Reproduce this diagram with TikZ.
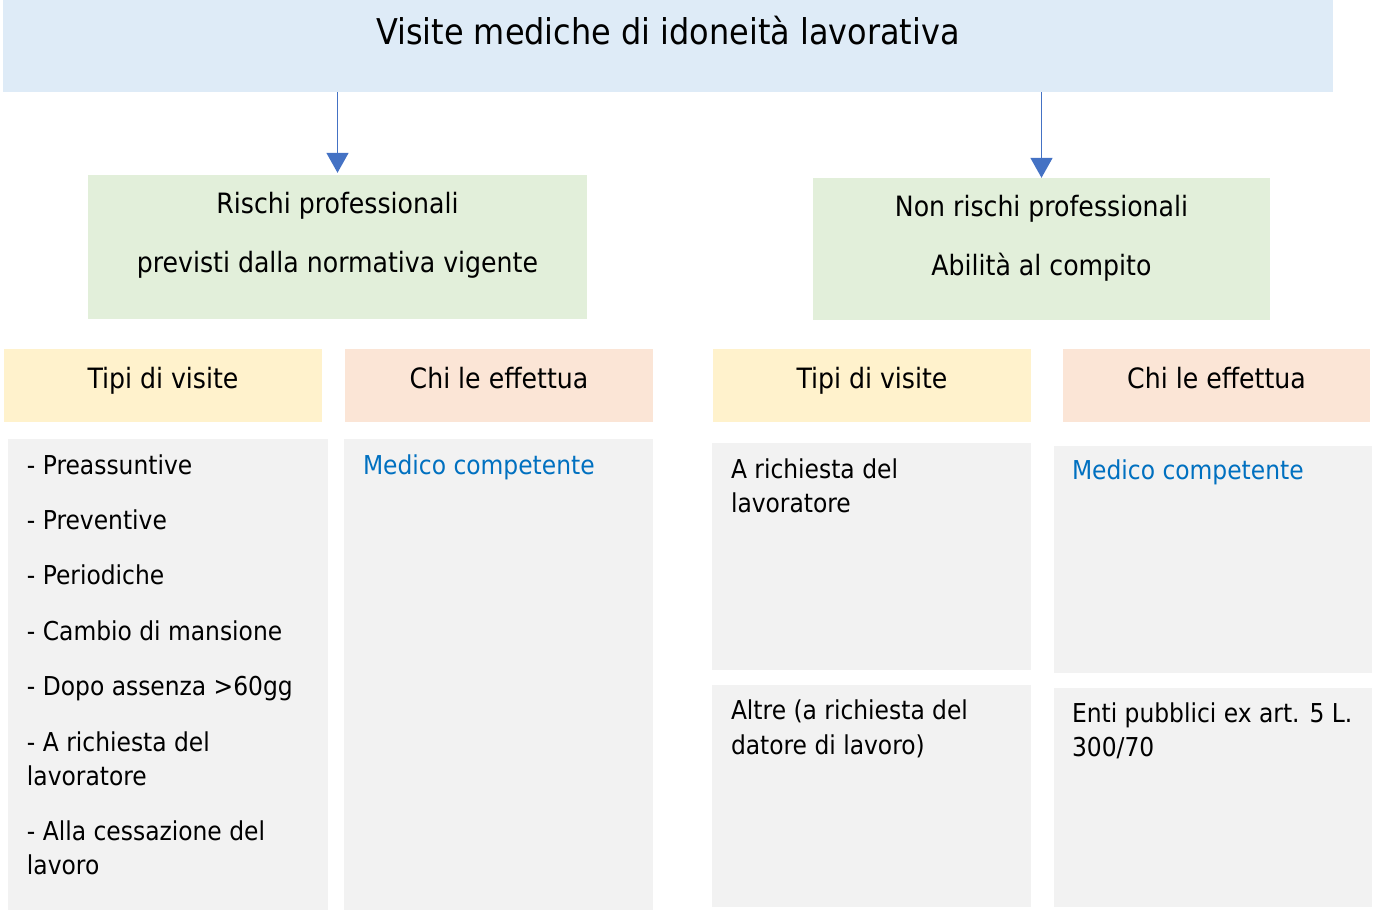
\documentclass[tikz,border=0pt]{standalone}
\usepackage{fontspec}
\setmainfont{DejaVu Sans Condensed}
\usetikzlibrary{arrows.meta,positioning}
\definecolor{titleblue}{HTML}{DEEBF7}
\definecolor{riskgreen}{HTML}{E2EFDA}
\definecolor{headyellow}{HTML}{FFF2CC}
\definecolor{headpink}{HTML}{FBE5D6}
\definecolor{listgrey}{HTML}{F2F2F2}
\definecolor{arrowblue}{HTML}{4472C4}
\definecolor{doctorblue}{HTML}{0070C0}

\begin{document}
\begin{tikzpicture}[x=1pt,y=-1pt,
  box/.style={rectangle,draw=none,inner sep=0pt},
  title box/.style={box,fill=titleblue},
  risk box/.style={box,fill=riskgreen},
  type head/.style={box,fill=headyellow,minimum height=73pt},
  who head/.style={box,fill=headpink,minimum height=73pt},
  list box/.style={box,fill=listgrey},
  title text/.style={anchor=base,inner sep=0pt,font=\fontsize{35.5}{40}\selectfont},
  head text/.style={anchor=base,inner sep=0pt,font=\fontsize{28}{34}\selectfont},
  list text/.style={anchor=base west,inner sep=0pt,font=\fontsize{26}{34}\selectfont},
  doctor text/.style={list text,text=doctorblue},
  down arrow/.style={draw=arrowblue,line width=1.6pt,
    arrows={-Triangle[width=22pt,length=20pt,fill=arrowblue]}}]

  \useasboundingbox (0,0) rectangle (1373,911);

  % boxes
  \node[title box,minimum width=1330pt,minimum height=92pt] (title) at (668,46) {};
  \node[risk box,minimum width=499pt,minimum height=144pt] (riskL) at (337.5,247) {};
  \node[risk box,minimum width=457pt,minimum height=142pt] (riskR) at (1041.5,249) {};

  \node[type head,minimum width=318pt] (typeL) at (163,385.5) {};
  \node[who head,minimum width=308pt] (whoL) at (499,385.5) {};
  \node[type head,minimum width=318pt] (typeR) at (872,385.5) {};
  \node[who head,minimum width=307pt] (whoR) at (1216.5,385.5) {};

  \node[list box,minimum width=320pt,minimum height=471pt] (listL) at (168,674.5) {};
  \node[list box,minimum width=309pt,minimum height=471pt] (docL) at (498.5,674.5) {};
  \node[list box,minimum width=319pt,minimum height=227pt] (listRa) at (871.5,556.5) {};
  \node[list box,minimum width=319pt,minimum height=222pt] (listRb) at (871.5,796) {};
  \node[list box,minimum width=318pt,minimum height=227pt] (docRa) at (1213,559.5) {};
  \node[list box,minimum width=318pt,minimum height=219pt] (docRb) at (1213,797.5) {};

  % texts
  \node[title text] at ([yshift=-45pt]title.north) {Visite mediche di idoneità lavorativa};
  \node[head text] (riskL1) at ([yshift=-39pt]riskL.north) {Rischi professionali};
  \node[head text] (riskL2) at ([yshift=-98pt]riskL.north) {previsti dalla normativa vigente};
  \node[head text] (riskR1) at ([yshift=-39pt]riskR.north) {Non rischi professionali};
  \node[head text] (riskR2) at ([yshift=-98pt]riskR.north) {Abilità al compito};

  \node[head text] at ([yshift=-40pt]typeL.north) {Tipi di visite};
  \node[head text] at ([yshift=-40pt]whoL.north) {Chi le effettua};
  \node[head text] at ([yshift=-40pt]typeR.north) {Tipi di visite};
  \node[head text] at ([yshift=-40pt]whoR.north) {Chi le effettua};

  \foreach \txt/\dy in {- Preassuntive/36, - Preventive/91, - Periodiche/146,
      - Cambio di mansione/202, - Dopo assenza >60gg/257, - A richiesta del/313,
      lavoratore/347, - Alla cessazione del/402, lavoro/436}
    \node[list text] at ([xshift=19pt,yshift=-\dy pt]listL.north west) {\txt};

  \node[doctor text] at ([xshift=19pt,yshift=-36pt]docL.north west) {Medico competente};
  \node[list text] (reqA) at ([xshift=19pt,yshift=-36pt]listRa.north west) {A richiesta del};
  \node[list text] (reqB) at ([xshift=19pt,yshift=-70pt]listRa.north west) {lavoratore};
  \node[list text] (othA) at ([xshift=19pt,yshift=-35pt]listRb.north west) {Altre (a richiesta del};
  \node[list text] (othB) at ([xshift=19pt,yshift=-70pt]listRb.north west) {datore di lavoro)};
  \node[doctor text] at ([xshift=18pt,yshift=-34pt]docRa.north west) {Medico competente};
  \node[list text] (entA) at ([xshift=18pt,yshift=-35pt]docRb.north west) {Enti pubblici ex art. 5 L.};
  \node[list text] (entB) at ([xshift=18pt,yshift=-69pt]docRb.north west) {300/70};

  % arrows
  \draw[down arrow] (title.south -| riskL.north) -- ([yshift=2pt]riskL.north);
  \draw[down arrow] (title.south -| riskR.north) -- (riskR.north);
\end{tikzpicture}
\end{document}
